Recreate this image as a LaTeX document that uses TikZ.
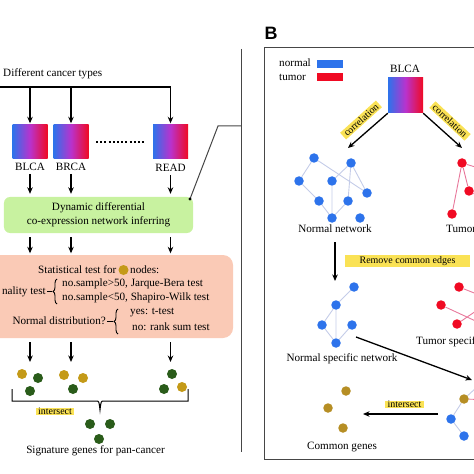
\documentclass[tikz,border=0pt]{standalone}
\usepackage{fontspec}
\setmainfont{Liberation Serif}
\newfontfamily\panelfont{Liberation Sans}
\usetikzlibrary{arrows.meta,decorations.pathreplacing}
\pgfdeclarelayer{bg}
\pgfsetlayers{bg,main}
\definecolor{cblue}{RGB}{45,115,235}
\definecolor{cred}{RGB}{240,10,35}
\definecolor{cmid}{RGB}{185,50,205}
\definecolor{cgreenbox}{RGB}{200,242,160}
\definecolor{csalmon}{RGB}{250,202,182}
\definecolor{cyellow}{RGB}{250,226,85}
\definecolor{cgold}{RGB}{196,154,24}
\definecolor{cgoldb}{RGB}{182,142,36}
\definecolor{cdgreen}{RGB}{42,92,26}
\definecolor{cedge}{RGB}{196,204,232}
\definecolor{credge}{RGB}{232,120,155}
\definecolor{cframe}{RGB}{70,70,70}
\begin{document}
\begin{tikzpicture}[x=1bp,y=-1bp,
  txt/.style={font=\fontsize{11.2}{13}\selectfont, inner sep=0pt},
  arr/.style={line width=1.3bp, -{Stealth[length=6.5bp,width=5.5bp]}},
  grad/.style={left color=cblue, right color=cred, middle color=cmid, minimum width=35bp, minimum height=34bp, inner sep=0pt},
  ylab/.style={fill=cyellow, font=\fontsize{10}{12}\selectfont, inner xsep=2.5bp, inner ysep=1bp},
  bdot/.style={circle, fill=cblue, minimum size=9.5bp, inner sep=0pt},
  rdot/.style={circle, fill=cred, minimum size=9.5bp, inner sep=0pt},
  gdot/.style={circle, fill=cgoldb, minimum size=9.5bp, inner sep=0pt},
  adot/.style={circle, fill=cgold, minimum size=10bp, inner sep=0pt},
  ndot/.style={circle, fill=cdgreen, minimum size=10bp, inner sep=0pt},
  edg/.style={cedge, line width=0.9bp},
  redg/.style={credge, line width=0.9bp},
  frm/.style={cframe, line width=1bp},
  bracestyle/.style={line width=0.9bp, decorate, decoration={brace, amplitude=4bp}},
]
\useasboundingbox (0,0) rectangle (474,474);

%%%%%%%%%%%%%%%% Panel A
\node[txt, anchor=west] (dct) at (3,74) {Different cancer types};
\coordinate (hstart) at (-5,87);
\coordinate (hend) at (171,87);
\draw[line width=1.3bp] (hstart) -- (hend);
\node[grad] (blca) at (30,142) {};
\node[grad] (brca) at (71,142) {};
\node[grad] (read) at (170.5,142) {};
\draw[arr, shorten >=1.5bp] (blca |- hend) -- (blca.north);
\draw[arr, shorten >=1.5bp] (brca |- hend) -- (brca.north);
\draw[arr, shorten >=1.5bp] (read |- hend) -- (read.north);
\node[txt] (lblca) at (30,167) {BLCA};
\node[txt] (lbrca) at (71,167) {BRCA};
\node[txt] (lread) at (170.5,168) {READ};
\coordinate (dotsL) at (96,142);
\coordinate (dotsR) at (145,142);
\draw[line width=2bp, dash pattern=on 2bp off 2.2bp] (dotsL) -- (dotsR);

\node[txt, fill=cgreenbox, rounded corners=6bp, minimum width=189bp, minimum height=36bp, align=center, font=\fontsize{11.2}{14}\selectfont] (ddn) at (98.5,215) {Dynamic differential\\co-expression network inferring};
\draw[arr, shorten >=3bp] ([yshift=-3bp]lblca.south) -- (lblca.south |- ddn.north);
\draw[arr, shorten >=3bp] ([yshift=-3bp]lbrca.south) -- (lbrca.south |- ddn.north);
\draw[arr, shorten >=3bp] ([yshift=-3bp]lread.south) -- (lread.south |- ddn.north);

\node[fill=csalmon, rounded corners=10bp, minimum width=250bp, minimum height=83bp, inner sep=0pt] (stat) at (108,296.5) {};
\draw[arr, shorten <=4bp, shorten >=1.5bp] (lblca |- ddn.south) -- (lblca |- stat.north);
\draw[arr, shorten <=4bp, shorten >=1.5bp] (lbrca |- ddn.south) -- (lbrca |- stat.north);
\draw[arr, shorten <=4bp, shorten >=1.5bp] (lread |- ddn.south) -- (lread |- stat.north);

\node[txt, anchor=east] (st1) at (116.5,270) {Statistical test for};
\node[adot] (stdot) at (123.5,270) {};
\node[txt, anchor=west] (st2) at (130,270) {nodes:};
\node[txt, anchor=east] (nt) at (46,291.5) {nality test};
\coordinate (b1a) at (57,304);
\coordinate (b1b) at (57,279);
\draw[bracestyle] (b1a) -- (b1b);
\draw[line width=0.9bp] (nt.east) ++(1,0) -- ++(5,0);
\node[txt, anchor=west] (jb) at (62,284) {no.sample>50, Jarque-Bera test};
\node[txt, anchor=west] (sw) at (62,298) {no.sample<50, Shapiro-Wilk test};
\node[txt, anchor=east] (nd) at (106,321) {Normal distribution?};
\coordinate (b2a) at (118,334);
\coordinate (b2b) at (118,309);
\draw[bracestyle] (b2a) -- (b2b);
\draw[line width=0.9bp] (nd.east) ++(1,0) -- ++(6,0);
\node[txt, anchor=west] (yes) at (130,313) {yes: t-test};
\node[txt, anchor=west] (no) at (132,327) {no: rank sum test};

\coordinate (g1) at (30,362);
\coordinate (g2) at (71,362);
\coordinate (g3) at (170.5,362);
\draw[arr] ([yshift=-4bp]stat.south -| g1) -- (g1);
\draw[arr] ([yshift=-4bp]stat.south -| g2) -- (g2);
\draw[arr] ([yshift=-4bp]stat.south -| g3) -- (g3);

\node[adot] (a11) at (22,374) {};
\node[ndot] (a12) at (38,378) {};
\node[ndot] (a13) at (30,391) {};
\node[adot] (a21) at (64,375) {};
\node[adot] (a22) at (83,378) {};
\node[ndot] (a23) at (73,389) {};
\node[ndot] (a31) at (172,374) {};
\node[ndot] (a32) at (164,389) {};
\node[adot] (a33) at (182,387) {};

\draw[line width=1bp] (12,389) |- (96,401) .. controls (99,401) .. (100,410) .. controls (101,401) .. (104,401) -| (188,389);
\node[ylab, inner ysep=0.5bp] (isA) at (55,411.5) {intersect};
\node[ndot] (r1) at (90,424) {};
\node[ndot] (r2) at (110,424) {};
\node[ndot] (r3) at (99,439) {};
\node[txt] (sig) at (95.5,451) {Signature genes for pan-cancer};

% callout
\coordinate (cTop) at (241,49);
\coordinate (cBot) at (241,452);
\coordinate (cMid) at (241,126);
\coordinate (cBend) at (218,126);
\coordinate (cEnd) at (190,199);
\draw[frm] (cTop) -- (cBot);
\draw[frm] (cMid) -- (cBend) -- (cEnd);
\fill (cEnd) circle (1.6bp);

%%%%%%%%%%%%%%%% Panel B
\draw[frm] (264,48) rectangle (500,459);
\node[font=\panelfont\bfseries\fontsize{18}{18}\selectfont, inner sep=0pt] (B) at (271,33) {B};

\node[txt, anchor=west] (lgn) at (279,63) {normal};
\node[fill=cblue, minimum width=26bp, minimum height=8bp, inner sep=0pt] (lgnb) at (330,64) {};
\node[txt, anchor=west] (lgt) at (279,77) {tumor};
\node[fill=cred, minimum width=26bp, minimum height=8bp, inner sep=0pt] (lgtr) at (330,77) {};

\node[txt] (blcat) at (405,69) {BLCA};
\node[grad, minimum height=35bp] (blcab) at (405.5,95.5) {};
\coordinate (corrL) at (348,148);
\coordinate (corrR) at (462,148);
\draw[arr] (blcab.south west) -- (corrL);
\draw[arr] (blcab.south east) -- (corrR);
\node[ylab, rotate=42] (cl) at (361,120) {correlation};
\node[ylab, rotate=-43] (cr) at (450,121) {correlation};

% normal network
\node[bdot] (n1) at (314,158) {};
\node[bdot] (n2) at (351,163) {};
\node[bdot] (n3) at (299,181) {};
\node[bdot] (n4) at (332,181) {};
\node[bdot] (n5) at (367,193) {};
\node[bdot] (n6) at (319,201) {};
\node[bdot] (n7) at (348,201) {};
\node[bdot] (n8) at (332,218) {};
\node[bdot] (n9) at (360,218) {};
\begin{pgfonlayer}{bg}
\draw[edg] (n1) -- (n3) (n1) -- (n5) (n2) -- (n5) (n2) -- (n7) (n2) -- (n4)
  (n3) -- (n6) (n4) -- (n8) (n6) -- (n8) (n7) -- (n8);
\end{pgfonlayer}
\node[txt] (nnl) at (335,229) {Normal network};

% tumor network (cut off)
\node[rdot] (t1) at (462,163) {};
\node[rdot] (t2) at (469,191) {};
\node[rdot] (t3) at (452,214) {};
\node[rdot] (t4) at (492,172) {};
\node[rdot] (t5) at (495,205) {};
\begin{pgfonlayer}{bg}
\draw[redg] (t1) -- (t3) (t1) -- (t2) (t1) -- (t4) (t2) -- (t5);
\end{pgfonlayer}
\node[txt, anchor=west] (tnl) at (446,229) {Tumor network};

\coordinate (rmA) at (335,242);
\coordinate (rmB) at (335,281);
\draw[arr] (rmA) -- (rmB);
\node[ylab, minimum width=125bp, minimum height=12bp, inner sep=0pt] (rce) at (407.5,261) {Remove common edges};

% normal specific network
\node[bdot] (s1) at (354,287) {};
\node[bdot] (s2) at (336,305) {};
\node[bdot] (s3) at (322,325) {};
\node[bdot] (s4) at (352,325) {};
\node[bdot] (s5) at (336,343) {};
\begin{pgfonlayer}{bg}
\draw[edg] (s1) -- (s2) (s2) -- (s5) (s3) -- (s5) (s4) -- (s5) (s2) -- (s3);
\end{pgfonlayer}
\node[txt] (nsl) at (342,359) {Normal specific network};

% tumor specific network (cut off)
\node[rdot] (u1) at (459,287) {};
\node[rdot] (u2) at (441,305) {};
\node[rdot] (u3) at (457,324) {};
\node[rdot] (u4) at (492,300) {};
\node[rdot] (u5) at (495,330) {};
\begin{pgfonlayer}{bg}
\draw[redg] (u1) -- (u4) (u2) -- (u5) (u3) -- (u4);
\end{pgfonlayer}
\node[txt, anchor=west] (tsl) at (416,342) {Tumor specific network};

\coordinate (dgA) at (356,337);
\coordinate (dgB) at (472,380);
\draw[arr] (dgA) -- (dgB);

% merged network (cut off)
\node[gdot] (q1) at (464,399) {};
\node[bdot] (q2) at (451,419) {};
\node[bdot] (q3) at (464,436) {};
\node[rdot] (q4) at (495,400) {};
\node[bdot] (q5) at (490,375) {};
\begin{pgfonlayer}{bg}
\draw[edg] (q1) -- (q2) (q2) -- (q3) (q1) -- (q5);
\draw[redg] (q1) -- (q4);
\end{pgfonlayer}

\coordinate (isR) at (438,414);
\coordinate (isL) at (363,414);
\draw[arr] (isR) -- (isL);
\node[ylab, inner ysep=0.5bp] (isB) at (404.5,404.5) {intersect};

\node[gdot] (c1) at (346,391) {};
\node[gdot] (c2) at (328,408) {};
\node[gdot] (c3) at (343,428) {};
\node[txt] (cgl) at (342,447) {Common genes};
\end{tikzpicture}
\end{document}
